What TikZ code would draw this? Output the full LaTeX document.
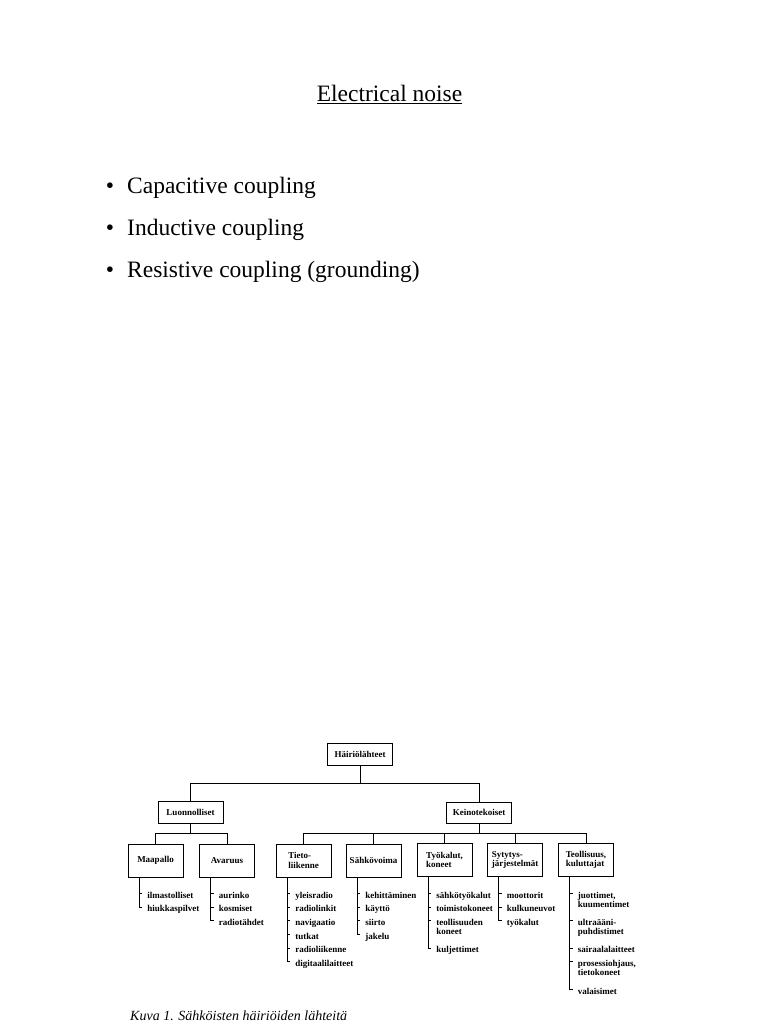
\documentclass[tikz,border=0pt]{standalone}
\usepackage{fontspec}
\setmainfont{Liberation Serif}
\usetikzlibrary{positioning}

\tikzset{
  box/.style={draw,line width=0.8pt,minimum width=55pt,minimum height=33pt,inner sep=1pt,align=left,font=\fontsize{9}{9.6}\selectfont\bfseries},
  topbox/.style={box,minimum width=65pt,minimum height=22pt},
  leaf/.style={anchor=base west,inner sep=0pt,text width=75pt,align=left,font=\fontsize{9}{9.3}\selectfont\bfseries},
  tree/.style={line width=0.8pt},
  twig/.style={line width=0.6pt},
  slide/.style={anchor=base west,inner sep=0pt,font=\fontsize{23.5}{28}\selectfont}
}

\begin{document}
\begin{tikzpicture}[x=1pt,y=-1pt]
\useasboundingbox (0,0) rectangle (768,1024);

% slide text
\node[slide,anchor=base] (title) at (389.5,101.7) {\underline{Electrical noise}};
\node[slide,anchor=base] (dot1) at (110,194) {\textbullet};
\node[slide] (cap) at (127,194) {Capacitive coupling};
\node[slide,anchor=base] (dot2) at (110,235.7) {\textbullet};
\node[slide] (ind) at (127,235.7) {Inductive coupling};
\node[slide,anchor=base] (dot3) at (110,277.3) {\textbullet};
\node[slide] (res) at (127,277.3) {Resistive coupling (grounding)};

% boxes
\node[topbox] (hai) at (360,754) {Häiriölähteet};
\node[topbox] (luo) at (190.5,812) {Luonnolliset};
\node[topbox,minimum height=21pt] (kei) at (479,812.5) {Keinotekoiset};
\node[box] (maa) at (155.5,860.5) {Maapallo};
\node[box] (ava) at (227,860.5) {Avaruus};
\node[box] (tie) at (303.5,860.5) {Tieto-\\liikenne};
\node[box] (sah) at (373.5,860.5) {Sähkövoima};
\node[box] (tyo) at (444.5,860) {Työkalut,\\koneet};
\node[box] (syt) at (515,860) {Sytytys-\\järjestelmät};
\node[box] (teo) at (586,860) {Teollisuus,\\kuluttajat};

% tree lines
\draw[tree] (hai.south) -- ++(0,18) -| (luo.north);
\draw[tree] (hai.south) -- ++(0,18) -| (kei.north);
\draw[tree] (luo.south) -- ++(0,10) -| (maa.north);
\draw[tree] (luo.south) -- ++(0,10) -| (ava.north);
\foreach \b in {tie,sah,tyo,syt,teo}
  \draw[tree] (kei.south) -- ++(0,9.5) -| (\b.north);

% leaves
\foreach \k/\t [count=\n] in {0/ilmastolliset,1/hiukkaspilvet}
  \node[leaf] (maa-\n) at ([xshift=19.5pt,yshift={-(20.7+13.7*\k)*1pt}]maa.south west) {\t};
\foreach \k/\t [count=\n] in {0/aurinko,1/kosmiset,2/radiotähdet}
  \node[leaf] (ava-\n) at ([xshift=19.5pt,yshift={-(20.7+13.7*\k)*1pt}]ava.south west) {\t};
\foreach \k/\t [count=\n] in {0/yleisradio,1/radiolinkit,2/navigaatio,3/tutkat,4/radioliikenne,5/digitaalilaitteet}
  \node[leaf] (tie-\n) at ([xshift=19.5pt,yshift={-(20.7+13.7*\k)*1pt}]tie.south west) {\t};
\foreach \k/\t [count=\n] in {0/kehittäminen,1/käyttö,2/siirto,3/jakelu}
  \node[leaf] (sah-\n) at ([xshift=19.5pt,yshift={-(20.7+13.7*\k)*1pt}]sah.south west) {\t};
\foreach \k/\t [count=\n] in {0/sähkötyökalut,1/toimistokoneet,2/{teollisuuden\\koneet},4/kuljettimet}
  \node[leaf] (tyo-\n) at ([xshift=19.5pt,yshift={-(21.2+13.7*\k)*1pt}]tyo.south west) {\t};
\foreach \k/\t [count=\n] in {0/moottorit,1/kulkuneuvot,2/työkalut}
  \node[leaf] (syt-\n) at ([xshift=19.5pt,yshift={-(21.2+13.7*\k)*1pt}]syt.south west) {\t};
\foreach \k/\t [count=\n] in {0/{juottimet,\\kuumentimet},2/{ultraääni-\\puhdistimet},4/sairaalalaitteet,5/{prosessiohjaus,\\tietokoneet},7/valaisimet}
  \node[leaf] (teo-\n) at ([xshift=19.5pt,yshift={-(21.2+13.7*\k)*1pt}]teo.south west) {\t};

% leaf lines
\foreach \b/\last in {maa/2,ava/3,tie/6,sah/4,tyo/4,syt/3,teo/5}{
  \draw[twig] ([xshift=11.5pt]\b.south west) |- ([xshift=-5pt,yshift=5pt]\b-\last.base west);
  \foreach \n in {1,...,\last}
    \draw[twig] ([xshift=-8pt,yshift=5pt]\b-\n.base west) -- ++(3,0);
}

% caption at the page edge
\node[anchor=base west,inner sep=0pt,font=\fontsize{14}{16}\selectfont\itshape] (kuva) at (130,1020.5) {Kuva 1. Sähköisten häiriöiden lähteitä};
\end{tikzpicture}
\end{document}
